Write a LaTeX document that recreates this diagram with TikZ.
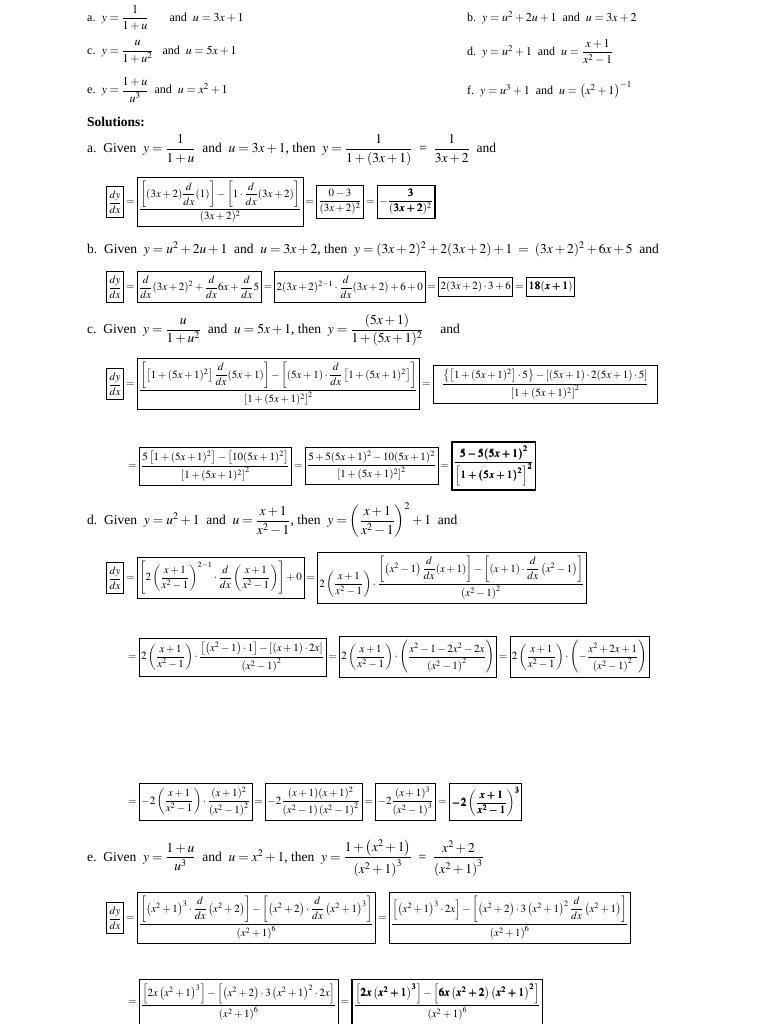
\documentclass[tikz,border=0pt]{standalone}
\usepackage{amsmath}
\usepackage{mathptmx}
\usepackage{bm}
\usepackage[no-math]{fontspec}
\setmainfont{Liberation Serif}
\usetikzlibrary{positioning}
\newcommand\ddx{\dfrac{d}{dx}}
\newcommand\dydx{\dfrac{dy}{dx}}
\begin{document}
\begin{tikzpicture}[x=1pt,y=1pt,
  every node/.style={font=\fontsize{11}{13}\selectfont,inner sep=1pt},
  bx/.style={draw,line width=0.6pt,inner xsep=2pt,inner ysep=4pt},
  bb/.style={draw,line width=1.4pt,inner xsep=2pt,inner ysep=4pt},
  eq/.style={inner sep=2pt},
  tx/.style={anchor=west,font=\fontsize{12}{14}\selectfont},
  gv/.style={anchor=west,font=\fontsize{13.5}{16}\selectfont}]
\useasboundingbox (0,0) rectangle (768,-1024);
\clip (0,0) rectangle (768,-1024);
% problems
\node[tx] (pa) at (86,-18) {a.\ \ $y=\dfrac{1}{1+u}$ \quad\ \ and \ $u=3x+1$};
\node[tx] (pb) at (466,-18) {b.\ \ $y=u^2+2u+1$ \ and \ $u=3x+2$};
\node[tx] (pc) at (86,-52) {c.\ \ $y=\dfrac{u}{1+u^2}$ \ \ and \ $u=5x+1$};
\node[tx] (pd) at (466,-52) {d.\ \ $y=u^2+1$ \ and \ $u=\dfrac{x+1}{x^2-1}$};
\node[tx] (pe) at (86,-90) {e.\ \ $y=\dfrac{1+u}{u^3}$ \ and \ $u=x^2+1$};
\node[tx] (pf) at (466,-90) {f.\ \ $y=u^3+1$ \ and \ $u=\left(x^2+1\right)^{-1}$};
\node[anchor=west,font=\bfseries\fontsize{13.5}{16}\selectfont] (sol) at (86,-122) {Solutions:};
% a
\node[gv] (ga) at (86,-150) {a.\ \ Given \ $y=\dfrac{1}{1+u}$ \ and \ $u=3x+1$, then \ $y=\dfrac{1}{1+(3x+1)}$ \ = \ $\dfrac{1}{3x+2}$ \ and};
\node[bx,anchor=west] (a0) at (106,-202) {$\dydx$};
\node[eq,right=0pt of a0] (ae1) {$=$};
\node[bx,right=0pt of ae1] (a1) {$\dfrac{\left[(3x+2)\ddx(1)\right]-\left[1\cdot\ddx(3x+2)\right]}{(3x+2)^2}$};
\node[eq,right=0pt of a1] (ae2) {$=$};
\node[bx,right=0pt of ae2] (a2) {$\dfrac{0-3}{(3x+2)^2}$};
\node[eq,right=0pt of a2] (ae3) {$=$};
\node[bb,right=0pt of ae3] (a3) {$-\dfrac{\bm{3}}{(\bm{3x+2})^2}$};
% b
\node[gv] (gb) at (86,-249) {b.\ \ Given \ $y=u^2+2u+1$ \ and \ $u=3x+2$, then \ $y=(3x+2)^2+2(3x+2)+1\;=\;(3x+2)^2+6x+5$ \ and};
\node[bx,anchor=west] (b0) at (106,-287) {$\dydx$};
\node[eq,right=0pt of b0] (be1) {$=$};
\node[bx,right=0pt of be1] (b1) {$\ddx(3x+2)^2+\ddx 6x+\ddx 5$};
\node[eq,right=0pt of b1] (be2) {$=$};
\node[bx,right=0pt of be2] (b2) {$2(3x+2)^{2-1}\cdot\ddx(3x+2)+6+0$};
\node[eq,right=0pt of b2] (be3) {$=$};
\node[bx,right=0pt of be3] (b3) {$2(3x+2)\cdot 3+6$};
\node[eq,right=0pt of b3] (be4) {$=$};
\node[bb,right=0pt of be4] (b4) {$\bm{18}(\bm{x+1})$};
% c
\node[gv] (gc) at (86,-330) {c.\ \ Given \ $y=\dfrac{u}{1+u^2}$ \ and \ $u=5x+1$, then \ $y=\dfrac{(5x+1)}{1+(5x+1)^2}$ \quad and};
\node[bx,anchor=west] (c0) at (106,-384) {$\dydx$};
\node[eq,right=0pt of c0] (ce1) {$=$};
\node[bx,right=0pt of ce1] (c1) {$\dfrac{\left[\left[1+(5x+1)^2\right]\ddx(5x+1)\right]-\left[(5x+1)\cdot\ddx\left[1+(5x+1)^2\right]\right]}{\left[1+(5x+1)^2\right]^2}$};
\node[eq,right=0pt of c1] (ce2) {$=$};
\node[bx,right=0pt of ce2,text width=220pt,align=center] (c2) {$\dfrac{\left\{\left[1+(5x+1)^2\right]\cdot5\right\}-\left[(5x+1)\cdot2(5x+1)\cdot5\right]}{\left[1+(5x+1)^2\right]^2}$};
\node[eq,anchor=west] (ce3) at (126,-466) {$=$};
\node[bx,right=0pt of ce3] (c3) {$\dfrac{5\left[1+(5x+1)^2\right]-\left[10(5x+1)^2\right]}{\left[1+(5x+1)^2\right]^2}$};
\node[eq,right=0pt of c3] (ce4) {$=$};
\node[bx,right=0pt of ce4] (c4) {$\dfrac{5+5(5x+1)^2-10(5x+1)^2}{\left[1+(5x+1)^2\right]^2}$};
\node[eq,right=0pt of c4] (ce5) {$=$};
\node[bb,right=0pt of ce5] (c5) {$\dfrac{\bm{5-5(5x+1)^2}}{\bm{\left[1+(5x+1)^2\right]^2}}$};
% d
\node[gv] (gd) at (86,-520) {d.\ \ Given \ $y=u^2+1$ \ and \ $u=\dfrac{x+1}{x^2-1}$, then \ $y=\left(\dfrac{x+1}{x^2-1}\right)^2+1$ \ and};
\node[bx,anchor=west] (d0) at (106,-578) {$\dydx$};
\node[eq,right=0pt of d0] (de1) {$=$};
\node[bx,right=0pt of de1] (d1) {$\left[2\left(\dfrac{x+1}{x^2-1}\right)^{2-1}\cdot\ddx\left(\dfrac{x+1}{x^2-1}\right)\right]+0$};
\node[eq,right=0pt of d1] (de2) {$=$};
\node[bx,right=0pt of de2] (d2) {$2\left(\dfrac{x+1}{x^2-1}\right)\cdot\dfrac{\left[\left(x^2-1\right)\ddx(x+1)\right]-\left[(x+1)\cdot\ddx\left(x^2-1\right)\right]}{\left(x^2-1\right)^2}$};
\node[eq,anchor=west] (de3) at (126,-657) {$=$};
\node[bx,right=0pt of de3] (d3) {$2\left(\dfrac{x+1}{x^2-1}\right)\cdot\dfrac{\left[\left(x^2-1\right)\cdot1\right]-\left[(x+1)\cdot2x\right]}{\left(x^2-1\right)^2}$};
\node[eq,right=0pt of d3] (de4) {$=$};
\node[bx,right=0pt of de4] (d4) {$2\left(\dfrac{x+1}{x^2-1}\right)\cdot\left(\dfrac{x^2-1-2x^2-2x}{\left(x^2-1\right)^2}\right)$};
\node[eq,right=0pt of d4] (de5) {$=$};
\node[bx,right=0pt of de5] (d5) {$2\left(\dfrac{x+1}{x^2-1}\right)\cdot\left(-\dfrac{x^2+2x+1}{\left(x^2-1\right)^2}\right)$};
\node[eq,anchor=west] (de6) at (126,-802) {$=$};
\node[bx,right=0pt of de6] (d6) {$-2\left(\dfrac{x+1}{x^2-1}\right)\cdot\dfrac{(x+1)^2}{\left(x^2-1\right)^2}$};
\node[eq,right=0pt of d6] (de7) {$=$};
\node[bx,right=0pt of de7] (d7) {$-2\dfrac{(x+1)(x+1)^2}{\left(x^2-1\right)\left(x^2-1\right)^2}$};
\node[eq,right=0pt of d7] (de8) {$=$};
\node[bx,right=0pt of de8] (d8) {$-2\dfrac{(x+1)^3}{\left(x^2-1\right)^3}$};
\node[eq,right=0pt of d8] (de9) {$=$};
\node[bb,right=0pt of de9] (d9) {$\bm{-2}\left(\dfrac{\bm{x+1}}{\bm{x^2-1}}\right)^{\bm{3}}$};
% e
\node[gv] (ge) at (86,-858) {e.\ \ Given \ $y=\dfrac{1+u}{u^3}$ \ and \ $u=x^2+1$, then \ $y=\dfrac{1+\left(x^2+1\right)}{\left(x^2+1\right)^3}$ \ = \ $\dfrac{x^2+2}{\left(x^2+1\right)^3}$};
\node[bx,anchor=west] (e0) at (106,-918) {$\dydx$};
\node[eq,right=0pt of e0] (ee1) {$=$};
\node[bx,right=0pt of ee1] (e1) {$\dfrac{\left[\left(x^2+1\right)^3\cdot\ddx\left(x^2+2\right)\right]-\left[\left(x^2+2\right)\cdot\ddx\left(x^2+1\right)^3\right]}{\left(x^2+1\right)^6}$};
\node[eq,right=0pt of e1] (ee2) {$=$};
\node[bx,right=0pt of ee2] (e2) {$\dfrac{\left[\left(x^2+1\right)^3\cdot2x\right]-\left[\left(x^2+2\right)\cdot3\left(x^2+1\right)^2\ddx\left(x^2+1\right)\right]}{\left(x^2+1\right)^6}$};
\node[eq,anchor=west] (ee3) at (126,-1002) {$=$};
\node[bx,right=0pt of ee3] (e3) {$\dfrac{\left[2x\left(x^2+1\right)^3\right]-\left[\left(x^2+2\right)\cdot3\left(x^2+1\right)^2\cdot2x\right]}{\left(x^2+1\right)^6}$};
\node[eq,right=0pt of e3] (ee4) {$=$};
\node[bb,right=0pt of ee4] (e4) {$\dfrac{\left[\bm{2x\left(x^2+1\right)^3}\right]-\left[\bm{6x\left(x^2+2\right)\left(x^2+1\right)^2}\right]}{\left(x^2+1\right)^6}$};
\end{tikzpicture}
\end{document}
